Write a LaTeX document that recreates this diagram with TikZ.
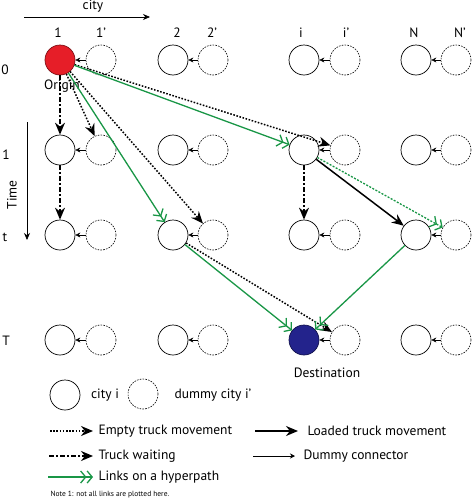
\documentclass[tikz,border=0pt]{standalone}
\usepackage{fontspec}
\setmainfont{PT Sans}
\usetikzlibrary{arrows.meta}

\definecolor{origred}{RGB}{230,30,40}
\definecolor{destblue}{RGB}{35,35,140}
\definecolor{pathgreen}{RGB}{25,150,70}

\tikzset{
    city/.style={circle, draw, line width=0.7pt, minimum size=30pt, inner sep=0pt},
    dummy/.style={city, line width=0.6pt, dash pattern=on 1.6pt off 1.2pt},
    conn/.style={line width=0.6pt, -{Stealth[length=5pt,width=5pt]}},
    emptymove/.style={line width=1.5pt, dash pattern=on 1.6pt off 1.6pt, -{Stealth[length=12pt,width=10pt]}},
    waitmove/.style={line width=1.4pt, dash pattern=on 4.5pt off 2.5pt on 1.5pt off 2.5pt, -{Stealth[length=12pt,width=10pt]}},
    loadmove/.style={line width=1.5pt, -{Stealth[length=12pt,width=10pt]}},
    hyperlink/.style={pathgreen, line width=1.3pt, -{Straight Barb[length=5pt,width=12pt] Straight Barb[length=5pt,width=12pt]}},
    lbl/.style={font=\fontsize{13.5}{15}\selectfont},
}

\begin{document}
\begin{tikzpicture}[x=1pt, y=-1pt]
    \useasboundingbox (0,0) rectangle (474,501);
    % axes
    \draw[line width=0.7pt, -{Stealth[length=7pt,width=6pt]}] (24,17) -- (150,17);
    \node[lbl] (citylbl) at (93,6) {city};
    \draw[line width=0.7pt, -{Stealth[length=7pt,width=6pt]}] (27,122) -- (27,240);
    \node[lbl, rotate=90] (timelbl) at (12,195) {Time};
    \node[lbl] (r0) at (5,70) {0};
    \node[lbl] (r1) at (6,155) {1};
    \node[lbl] (rt) at (5,237) {t};
    \node[lbl] (rT) at (6,341) {T};
    % city labels
    \node[lbl] (l1) at (58,33) {1};
    \node[lbl] (l1d) at (101,33) {1’};
    \node[lbl] (l2) at (177,33) {2};
    \node[lbl] (l2d) at (212,33) {2’};
    \node[lbl] (li) at (301,33) {i};
    \node[lbl] (lid) at (346,33) {i’};
    \node[lbl] (lN) at (414,33) {N};
    \node[lbl] (lNd) at (460,33) {N’};

    % row 0
    \node[city, fill=origred, draw=origred!55!black] (c1-0) at (60,60) {};
    \node[dummy] (d1-0) at (101,60) {};
    \node[city] (c2-0) at (173,60) {};
    \node[dummy] (d2-0) at (213,60) {};
    \node[city] (ci-0) at (304,60) {};
    \node[dummy] (di-0) at (345,60) {};
    \node[city] (cN-0) at (416,60) {};
    \node[dummy] (dN-0) at (456,60) {};
    % row 1
    \node[city] (c1-1) at (60,150) {};
    \node[dummy] (d1-1) at (101,150) {};
    \node[city] (c2-1) at (173,150) {};
    \node[dummy] (d2-1) at (213,150) {};
    \node[city] (ci-1) at (304,150) {};
    \node[dummy] (di-1) at (345,150) {};
    \node[city] (cN-1) at (416,150) {};
    \node[dummy] (dN-1) at (456,150) {};
    % row t
    \node[city] (c1-t) at (60,235) {};
    \node[dummy] (d1-t) at (101,235) {};
    \node[city] (c2-t) at (173,235) {};
    \node[dummy] (d2-t) at (213,235) {};
    \node[city] (ci-t) at (304,235) {};
    \node[dummy] (di-t) at (345,235) {};
    \node[city] (cN-t) at (416,235) {};
    \node[dummy] (dN-t) at (456,235) {};
    % row T
    \node[city] (c1-T) at (60,340) {};
    \node[dummy] (d1-T) at (101,340) {};
    \node[city] (c2-T) at (173,340) {};
    \node[dummy] (d2-T) at (213,340) {};
    \node[city, fill=destblue, draw=destblue!55!black] (ci-T) at (304,340) {};
    \node[dummy] (di-T) at (345,340) {};
    \node[city] (cN-T) at (416,340) {};
    \node[dummy] (dN-T) at (456,340) {};

    % dummy connectors
    \foreach \r in {0,1,t,T}
        \foreach \c in {1,2,i,N}
            \draw[conn] (d\c-\r) -- (c\c-\r);

    \node[lbl] (orig) at (62,86) {Origin};
    \node[lbl] (dest) at (327,373) {Destination};

    % movements
    \draw[waitmove] (c1-0) -- (c1-1);
    \draw[waitmove] (c1-1) -- (c1-t);
    \draw[waitmove] (ci-1) -- (ci-t);
    \draw[emptymove] (c1-0) -- (d1-1);
    \draw[emptymove] (c1-0) -- (d2-t);
    \draw[emptymove] (c1-0) -- (di-1);
    \draw[emptymove] (c2-t) -- (di-T);
    \draw[loadmove] (ci-1) -- (cN-t);
    \draw[hyperlink] (c1-0) -- (ci-1);
    \draw[hyperlink] (c1-0) -- (c2-t);
    \draw[hyperlink] (c2-t) -- (ci-T);
    \draw[hyperlink] (cN-t) -- (ci-T);
    \draw[hyperlink, dash pattern=on 2pt off 1.5pt] (ci-1) -- (dN-t);

    % legend
    \node[city] (kcity) at (65,395) {};
    \node[lbl] (kcitylbl) at (105,395) {city i};
    \node[dummy] (kdummy) at (143,394) {};
    \node[lbl, anchor=west] (kdummylbl) at (171,395) {dummy city i’};
    \draw[emptymove] (50,431) -- (93,431);
    \node[lbl, anchor=west] (kempty) at (95,431) {Empty truck movement};
    \draw[loadmove] (255,431) -- (298,431);
    \node[lbl, anchor=west] (kload) at (304,431) {Loaded truck movement};
    \draw[waitmove] (49,456) -- (93,456);
    \node[lbl, anchor=west] (kwait) at (95,456) {Truck waiting};
    \draw[conn] (253,456) -- (295,456);
    \node[lbl, anchor=west] (kconn) at (300,456) {Dummy connector};
    \draw[hyperlink] (48,477) -- (93,477);
    \node[lbl, anchor=west] (khyper) at (95,477) {Links on a hyperpath};
    \node[anchor=west, font=\fontsize{7.5}{9}\selectfont] (note) at (47,495) {Note 1: not all links are plotted here.};
\end{tikzpicture}
\end{document}
